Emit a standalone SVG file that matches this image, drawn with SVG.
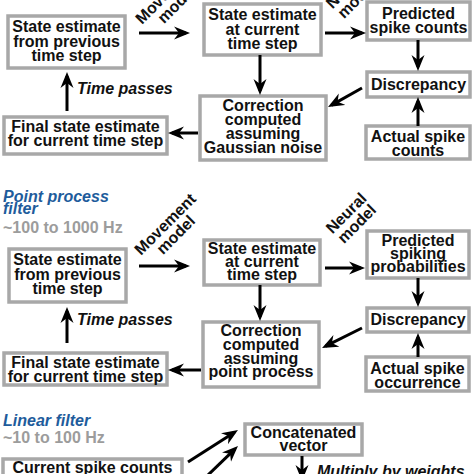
<svg xmlns="http://www.w3.org/2000/svg" width="474" height="474" viewBox="0 0 474 474">
<style>
.bx{fill:#fff;stroke:#a8a8a8;stroke-width:3.5}
.t{font-family:"Liberation Sans",Arial,sans-serif;font-weight:bold;font-size:16px;fill:#111;text-anchor:middle}
.it{font-family:"Liberation Sans",Arial,sans-serif;font-weight:bold;font-style:italic;font-size:16px;fill:#111}
.hd{font-family:"Liberation Sans",Arial,sans-serif;font-weight:bold;font-style:italic;font-size:16px;fill:#1e5c9c}
.hz{font-family:"Liberation Sans",Arial,sans-serif;font-weight:bold;font-size:16px;fill:#9c9c9c}
.ar{stroke:#000;stroke-width:3;fill:none;marker-end:url(#ah)}
</style>
<defs>
<marker id="ah" markerUnits="userSpaceOnUse" markerWidth="16" markerHeight="14" viewBox="0 0 16 14" refX="12" refY="7" orient="auto"><path d="M0,0.5 L16,7 L0,13.5 L5,7 z" fill="#000"/></marker>
</defs>
<rect width="474" height="474" fill="#fff"/>

<!-- Section 1 -->
<g id="s1-prev"><rect class="bx" x="8" y="16" width="117" height="52"/><text class="t" x="66.5" y="32">State estimate<tspan x="66.5" dy="14.5">from previous</tspan><tspan x="66.5" dy="14.5">time step</tspan></text></g>
<g id="s1-cur"><rect class="bx" x="204" y="4" width="117" height="51"/><text class="t" x="262.5" y="20">State estimate<tspan x="262.5" dy="14.5">at current</tspan><tspan x="262.5" dy="14.5">time step</tspan></text></g>
<g id="s1-pred"><rect class="bx" x="367" y="2" width="103" height="38"/><text class="t" x="418.5" y="19">Predicted<tspan x="418.5" dy="14">spike counts</tspan></text></g>
<g id="s1-disc"><rect class="bx" x="367" y="72" width="103" height="25"/><text class="t" x="418.5" y="90">Discrepancy</text></g>
<g id="s1-act"><rect class="bx" x="366" y="126" width="104" height="33"/><text class="t" x="418" y="142">Actual spike<tspan x="418" dy="14">counts</tspan></text></g>
<g id="s1-corr"><rect class="bx" x="200" y="96" width="126" height="64"/><text class="t" x="263" y="110.5">Correction<tspan x="263" dy="14">computed</tspan><tspan x="263" dy="14">assuming</tspan><tspan x="263" dy="14">Gaussian noise</tspan></text></g>
<g id="s1-final"><rect class="bx" x="4" y="117" width="163" height="37"/><text class="t" x="85.5" y="132">Final state estimate<tspan x="85.5" dy="14">for current time step</tspan></text></g>

<!-- Section 2 -->
<text class="hd" x="3" y="202">Point process<tspan x="3" dy="12">filter</tspan></text>
<text class="hz" x="3" y="233">~100 to 1000 Hz</text>
<g id="s2-prev"><rect class="bx" x="9" y="249" width="117" height="53"/><text class="t" x="67.5" y="265">State estimate<tspan x="67.5" dy="14.5">from previous</tspan><tspan x="67.5" dy="14.5">time step</tspan></text></g>
<g id="s2-cur"><rect class="bx" x="204" y="240" width="116" height="45"/><text class="t" x="262" y="254">State estimate<tspan x="262" dy="13">at current</tspan><tspan x="262" dy="13">time step</tspan></text></g>
<g id="s2-pred"><rect class="bx" x="367" y="231" width="102" height="47"/><text class="t" x="418" y="246">Predicted<tspan x="418" dy="13">spiking</tspan><tspan x="418" dy="13">probabilities</tspan></text></g>
<g id="s2-disc"><rect class="bx" x="367" y="308" width="102" height="24"/><text class="t" x="418" y="325">Discrepancy</text></g>
<g id="s2-act"><rect class="bx" x="366" y="357" width="103" height="34"/><text class="t" x="417.5" y="374">Actual spike<tspan x="417.5" dy="13.5">occurrence</tspan></text></g>
<g id="s2-corr"><rect class="bx" x="203" y="322" width="116" height="65"/><text class="t" x="261" y="336">Correction<tspan x="261" dy="14">computed</tspan><tspan x="261" dy="13.5">assuming</tspan><tspan x="261" dy="13.5">point process</tspan></text></g>
<g id="s2-final"><rect class="bx" x="4" y="353" width="163" height="32"/><text class="t" x="85.5" y="368">Final state estimate<tspan x="85.5" dy="14">for current time step</tspan></text></g>

<!-- Section 3 -->
<text class="hd" x="3" y="426">Linear filter</text>
<text class="hz" x="3" y="443">~10 to 100 Hz</text>
<g id="s3-concat"><rect class="bx" x="245" y="424" width="117" height="31"/><text class="t" x="303.5" y="438">Concatenated<tspan x="303.5" dy="13">vector</tspan></text></g>
<g id="s3-current"><rect class="bx" x="3" y="459" width="179" height="30"/><text class="t" x="92.5" y="473">Current spike counts</text></g>

<!-- Connector labels -->
<g id="labels">
<text class="t" transform="translate(170,-3) rotate(-45)">Movement<tspan x="0" dy="15">model</tspan></text>
<text class="t" transform="translate(350,-8) rotate(-45)">Neural<tspan x="0" dy="15">model</tspan></text>
<text class="it" x="77" y="94">Time passes</text>
<text class="t" transform="translate(169,228) rotate(-45)">Movement<tspan x="0" dy="15">model</tspan></text>
<text class="t" transform="translate(350,217) rotate(-45)">Neural<tspan x="0" dy="15">model</tspan></text>
<text class="it" x="77" y="325">Time passes</text>
<text class="it" x="317" y="477">Multiply by weights</text>
</g>

<!-- Connectors -->
<g id="connectors">
<line class="ar" x1="139" y1="33" x2="186" y2="33"/>
<line class="ar" x1="325" y1="33" x2="362" y2="33"/>
<line class="ar" x1="260" y1="55" x2="260" y2="91"/>
<line class="ar" x1="418" y1="40" x2="418" y2="67"/>
<line class="ar" x1="418" y1="126" x2="418" y2="101"/>
<line class="ar" x1="362" y1="88" x2="331.5" y2="105.1"/>
<line class="ar" x1="198" y1="133" x2="172" y2="133"/>
<line class="ar" x1="67" y1="111" x2="67" y2="76"/>

<line class="ar" x1="139" y1="266" x2="186" y2="266"/>
<line class="ar" x1="325" y1="268" x2="361" y2="268"/>
<line class="ar" x1="260" y1="285" x2="260" y2="317"/>
<line class="ar" x1="418" y1="278" x2="418" y2="303"/>
<line class="ar" x1="418" y1="357" x2="418" y2="337"/>
<line class="ar" x1="362" y1="328" x2="325.6" y2="346.2"/>
<line class="ar" x1="201" y1="370" x2="172" y2="370"/>
<line class="ar" x1="67" y1="343" x2="67" y2="311"/>

<line class="ar" x1="188" y1="462" x2="234.6" y2="432.2"/>
<line class="ar" x1="207" y1="476" x2="235.1" y2="448.8"/>
<line class="ar" x1="302" y1="456" x2="302" y2="477"/>
</g>
</svg>
